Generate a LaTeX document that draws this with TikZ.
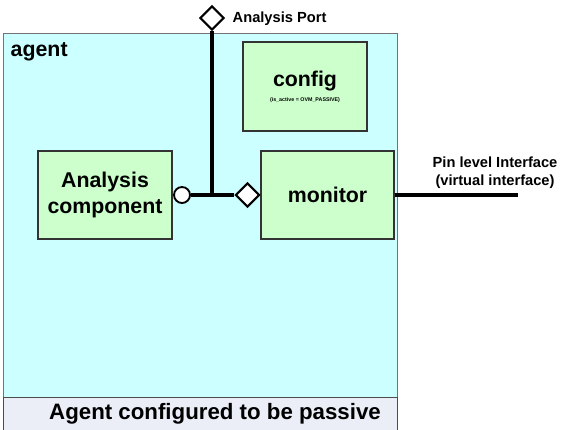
\documentclass[tikz,border=0pt]{standalone}
\usepackage{fontspec}
\setmainfont{Liberation Sans}
\usetikzlibrary{shapes.geometric}
\definecolor{agentcyan}{HTML}{CCFFFF}
\definecolor{compgreen}{HTML}{CCFFCC}
\definecolor{barlav}{HTML}{EBEDF7}
\begin{document}
\begin{tikzpicture}[x=0.75pt,y=-0.75pt,
  blockbox/.style={draw=black!80,line width=1pt,fill=compgreen,align=center,
    font=\bfseries\fontsize{16}{19}\selectfont},
  wire/.style={line width=3.2pt},
  portdiam/.style={diamond,draw,fill=white,line width=1.6pt,minimum size=18pt,inner sep=0pt},
  portcirc/.style={circle,draw,fill=white,line width=1.4pt,minimum size=12pt,inner sep=0pt},
  smalllabel/.style={font=\bfseries\fontsize{11}{13.5}\selectfont,align=center}]
\useasboundingbox (0,0) rectangle (564,429);

% agent frame and caption bar
\draw[draw=black!55,fill=agentcyan] (3,33) rectangle (397,397);
\draw[draw=black!70,fill=barlav] (3,397) rectangle (397,432);
\node[font=\bfseries\fontsize{16.7}{19}\selectfont] (caption) at (215,414) {Agent configured to be passive};
\node[anchor=west,font=\bfseries\fontsize{16}{19}\selectfont] (agentlbl) at (6,52) {agent};

% components
\node[blockbox,minimum width=93pt,minimum height=66.75pt] (config) at (305,86.5)
  {config\\[-8pt]{\fontsize{4}{5}\selectfont (is\_active = OVM\_PASSIVE)}};
\node[blockbox,minimum width=100.5pt,minimum height=66pt] (anacomp) at (105,195) {Analysis\\component};
\node[blockbox,minimum width=99.75pt,minimum height=66pt] (monitor) at (327.5,195) {monitor};

% ports
\node[portdiam] (apdiam) at (212,18) {};
\node[smalllabel,anchor=west] (aplbl) at (228,19) {Analysis Port};
\node[portcirc] (impcirc) at (182,195) {};
\node[portdiam] (mondiam) at (247.5,195) {};
\coordinate (tjoin) at (212,195);
\coordinate (pinend) at (518,195);
\node[smalllabel] (pinlbl) at (495,173) {Pin level Interface\\(virtual interface)};

% wires
\draw[wire] (apdiam.south) -- (tjoin);
\draw[wire] (impcirc.east) -- (mondiam.west);
\draw[wire] (monitor.east) -- (pinend);
\end{tikzpicture}
\end{document}
